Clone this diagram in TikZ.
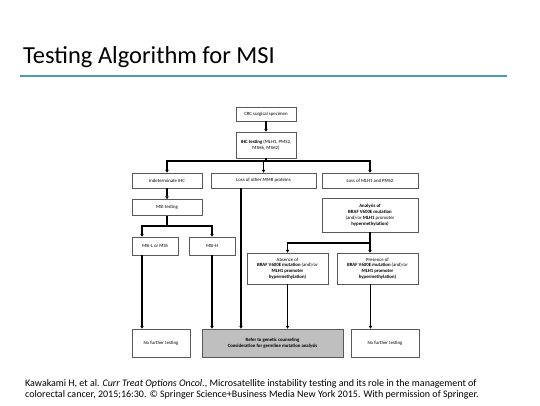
\documentclass[tikz,border=0pt]{standalone}
\usepackage{fontspec}
\setmainfont{Carlito}
\usepackage{tikz}
\usetikzlibrary{arrows.meta}
\definecolor{slide teal}{rgb}{0.29, 0.62, 0.69}
\definecolor{box gray}{rgb}{0.75, 0.75, 0.75}
\definecolor{frame gray}{rgb}{0.35, 0.35, 0.35}

\tikzset{
	algo box/.style = {draw = frame gray, line width = 0.5pt, fill = white, align = center,
		inner sep = 1pt, font = \fontsize{4.8}{5.8}\selectfont},
	flow/.style = {line width = 1.1pt},
	flow arrow/.style = {flow, -{Triangle[length = 3pt, width = 3.4pt]}}
}

\begin{document}
\begin{tikzpicture}[x = 1pt, y = -1pt]
		\useasboundingbox (0, 0) rectangle (540, 405);
		% heading
		\node[anchor = base west, inner sep = 0pt, font = \fontsize{24.5}{28}\selectfont] (title) at (23, 63) {Testing Algorithm for MSI};
		\draw[slide teal, line width = 1.2pt] (20, 76) -- (507, 76);
		% top of the algorithm
		\node[algo box, minimum width = 60pt, minimum height = 14pt] (crc) at (266, 114) {CRC surgical specimen};
		\node[algo box, minimum width = 60pt, minimum height = 26pt] (ihc) at (266, 145) {\textbf{IHC testing} (MLH1, PMS2,\\ MSH6, MSH2)};
		\node[algo box, minimum width = 70pt, minimum height = 15pt] (indet) at (167, 180.5) {Indeterminate IHC};
		\node[algo box, minimum width = 105pt, minimum height = 15pt] (other) at (263.5, 180.5) {Loss of other MMR proteins};
		\node[algo box, minimum width = 96pt, minimum height = 15pt] (mlh) at (370, 180.5) {Loss of MLH1 and PMS2};
		% middle
		\node[algo box, minimum width = 70pt, minimum height = 16pt] (msi) at (167, 207.5) {MSI testing};
		\node[algo box, minimum width = 96pt, minimum height = 34pt] (braf) at (370, 215) {\textbf{Analysis of}\\ \textbf{BRAF V600E mutation}\\ (and)/or \textbf{MLH1} promoter\\ \textbf{hypermethylation)}};
		\node[algo box, minimum width = 46pt, minimum height = 18pt] (msil) at (155, 246) {MSI-L or MSS};
		\node[algo box, minimum width = 46pt, minimum height = 18pt] (msih) at (212, 246) {MSI-H};
		\node[algo box, minimum width = 81pt, minimum height = 31pt] (absent) at (287.5, 268.5) {Absence of\\ \textbf{BRAF V600E mutation} (and)/or\\ \textbf{MLH1 promoter}\\ \textbf{hypermethylation)}};
		\node[algo box, minimum width = 81pt, minimum height = 31pt] (present) at (377.5, 268.5) {Presence of\\ \textbf{BRAF V600E mutation} (and)/or\\ \textbf{MLH1 promoter}\\ \textbf{hypermethylation)}};
		% bottom row
		\node[algo box, minimum width = 58pt, minimum height = 28pt] (nft left) at (161, 343) {No further testing};
		\node[algo box, fill = box gray, minimum width = 141pt, minimum height = 28pt] (refer) at (272.5, 343) {\textbf{Refer to genetic counseling}\\ \textbf{Consideration for germline mutation analysis}};
		\node[algo box, minimum width = 68pt, minimum height = 28pt] (nft right) at (385, 343) {No further testing};
		% connectors
		\coordinate (bus) at (266, 161);
		\coordinate (msi bus) at (167, 226);
		\coordinate (braf bus) at (370, 243);
		\draw[flow arrow] (crc) -- (ihc);
		\draw[flow] (ihc) -- (bus);
		\draw[flow arrow] (bus) -| (indet);
		\draw[flow arrow] (bus) -| (mlh);
		\draw[flow arrow] (bus -| other) -- (other);
		\draw[flow arrow] (indet) -- (msi);
		\draw[flow] (msi) -- (msi bus);
		\draw[flow arrow] (msi bus) -| ([xshift = -13pt]msil.north);
		\draw[flow arrow] (msi bus) -| (msih);
		\draw[flow arrow] (braf) -- (braf bus) -| (absent);
		\draw[flow arrow] (braf bus) -- (braf bus |- present.north);
		\draw[flow arrow] ([xshift = -13pt]msil.south) -- ([xshift = -13pt]msil.south |- nft left.north);
		\draw[flow arrow] (msih) -- (msih |- refer.north);
		\draw[flow arrow] ([xshift = -22.5pt]other.south) -- ([xshift = -22.5pt]other.south |- refer.north);
		\draw[flow arrow] (absent) -- (absent |- refer.north);
		\draw[flow arrow] ([xshift = -7pt]present.south) -- ([xshift = -7pt]present.south |- nft right.north);
		% source line
		\node[anchor = north west, inner sep = 0pt, align = left, font = \fontsize{10}{11}\selectfont] (source) at (25, 379)
			{Kawakami H, et al. \textit{Curr Treat Options Oncol.}, Microsatellite instability testing and its role in the management of\\
			colorectal cancer, 2015;16:30. © Springer Science+Business Media New York 2015. With permission of Springer.};
	\end{tikzpicture}
\end{document}
